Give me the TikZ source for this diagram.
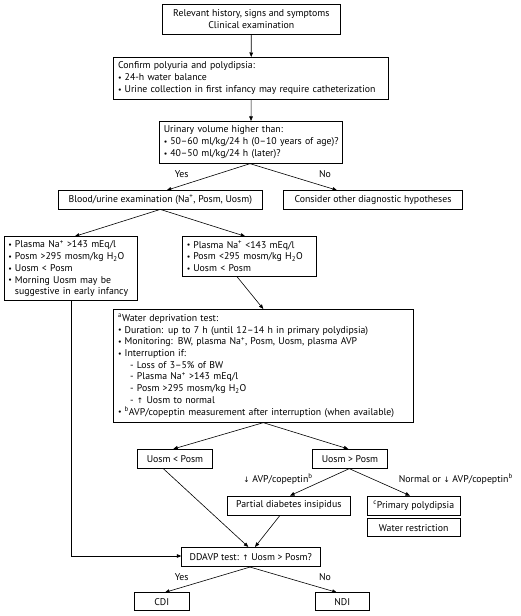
\documentclass[tikz,border=0pt]{standalone}
\usepackage{fontspec}
\setmainfont{PT Sans}
\newfontfamily\symf{DejaVu Sans}
\usetikzlibrary{arrows.meta,calc}
\newcommand\fs{\fontsize{9.8}{11.7}\selectfont}
\newcommand\bu{\makebox[6.5pt][l]{\raisebox{0.3pt}{\scalebox{0.8}{•}}}}
\newcommand\bi{\hspace*{6.5pt}}
\newcommand\sub{\hspace*{12pt}}
\newcommand\ml[1]{\mbox{#1}}
\newcommand\upa{{\symf\fontsize{7.5}{8}\selectfont ↑}}
\newcommand\dna{{\symf\fontsize{7.5}{8}\selectfont ↓}}
\begin{document}
\begin{tikzpicture}[x=1pt,y=-1pt,
  box/.style={draw, line width=0.7pt, inner xsep=4.5pt, inner ysep=0pt, font=\fs, anchor=center},
  lbox/.style={box, align=left},
  cbox/.style={box, align=center, inner xsep=0pt},
  arr/.style={line width=0.6pt, -{Triangle[length=4.5pt,width=3.6pt]}},
  lab/.style={font=\fs, inner sep=0pt}]
\useasboundingbox (0,0) rectangle (520,616);
\node[cbox, minimum width=178.7pt, minimum height=30pt] (b1) at (251.3,19) {Relevant history, signs and symptoms\\Clinical examination};
\node[lbox, text width=266pt, minimum height=41.7pt] (b2) at (251.2,78.2) {\ml{Confirm polyuria and polydipsia:}\\\ml{\bu 24-h water balance}\\\ml{\bu Urine collection in first infancy may require catheterization}};
\node[lbox, text width=174.4pt, minimum height=42pt] (b3) at (251,142.3) {\ml{Urinary volume higher than:}\\\ml{\bu 50–60 ml/kg/24 h (0–10 years of age)?}\\\ml{\bu 40–50 ml/kg/24 h (later)?}};
\node[cbox, minimum width=203.3pt, minimum height=18.5pt] (blood) at (160.3,199.8) {Blood/urine examination (Na\textsuperscript{+}, Posm, Uosm)};
\node[cbox, minimum width=179.4pt, minimum height=18.5pt] (cons) at (373,199.8) {Consider other diagnostic hypotheses};
\node[lbox, text width=124.7pt, minimum height=64pt] (left) at (70.8,268.7) {\ml{\bu Plasma Na\textsuperscript{+} >143 mEq/l}\\\ml{\bu Posm >295 mosm/kg H\textsubscript{2}O}\\\ml{\bu Uosm < Posm}\\\ml{\bu Morning Uosm may be}\\\ml{\bi suggestive in early infancy}};
\node[lbox, text width=124.7pt, minimum height=39.3pt] (mid) at (249.2,256.3) {\ml{\bu Plasma Na\textsuperscript{+} <143 mEq/l}\\\ml{\bu Posm <295 mosm/kg H\textsubscript{2}O}\\\ml{\bu Uosm < Posm}};
\node[lbox, text width=290.6pt, minimum height=113pt] (water) at (263.5,365.8) {\ml{\textsuperscript{a}Water deprivation test:}\\\ml{\bu Duration: up to 7 h (until 12–14 h in primary polydipsia)}\\\ml{\bu Monitoring: BW, plasma Na\textsuperscript{+}, Posm, Uosm, plasma AVP}\\\ml{\bu Interruption if:}\\\ml{\sub - Loss of 3–5\% of BW}\\\ml{\sub - Plasma Na\textsuperscript{+} >143 mEq/l}\\\ml{\sub - Posm >295 mosm/kg H\textsubscript{2}O}\\\ml{\sub - \upa\ Uosm to normal}\\\ml{\bu \textsuperscript{b}AVP/copeptin measurement after interruption (when available)}};
\node[cbox, minimum width=74.6pt, minimum height=19pt] (ult) at (175,458.8) {Uosm < Posm};
\node[cbox, minimum width=74.6pt, minimum height=19pt] (ugt) at (350,458.8) {Uosm > Posm};
\node[cbox, minimum width=122.3pt, minimum height=19pt] (pdi) at (288.8,505.5) {Partial diabetes insipidus};
\node[cbox, minimum width=92.7pt, minimum height=19pt] (pp) at (413.7,505.5) {\textsuperscript{c}Primary polydipsia};
\node[cbox, minimum width=92.7pt, minimum height=18pt] (wr) at (413.7,527.7) {Water restriction};
\node[cbox, minimum width=138.3pt, minimum height=19.4pt] (dd) at (250.8,557) {DDAVP test: \upa\ Uosm > Posm?};
\node[cbox, minimum width=54.7pt, minimum height=18pt] (cdi) at (161.7,601.7) {CDI};
\node[cbox, minimum width=54.3pt, minimum height=18pt] (ndi) at (342.2,601.7) {NDI};
% labels
\node[lab] (y1) at (181.7,174) {Yes};
\node[lab] (n1) at (325,174) {No};
\node[lab] (y2) at (181.7,577.3) {Yes};
\node[lab] (n2) at (325,577.3) {No};
\node[lab] (avp1) at (278,479) {\dna\ AVP/copeptin\textsuperscript{b}};
\node[lab, anchor=east] (avp2) at (513,479) {Normal or \dna\ AVP/copeptin\textsuperscript{b}};
% arrows
\draw[arr] (b1.south) -- (b2.north);
\draw[arr] (b2.south) -- (b3.north);
\draw[arr] ($(b3.south)+(-1,0)$) -- ($(blood.north)+(6.5,0)$);
\draw[arr] ($(b3.south)+(-1,0)$) -- ($(cons.north)+(-36,0)$);
\draw[arr] (blood.south) -- ($(left.north)+(4,0)$);
\draw[arr] (blood.south) -- ($(mid.north)+(-4,0)$);
\draw[arr] ($(mid.south)+(-12.5,0)$) -- ($(water.north)+(-0.2,0)$);
\draw[arr] ($(water.south)+(-0.2,0)$) -- ($(ult.north)+(-1.7,0)$);
\draw[arr] ($(water.south)+(-0.2,0)$) -- ($(ugt.north)+(-1.7,0)$);
\draw[arr] ($(ugt.south)+(-0.7,0)$) -- ($(pdi.north)+(1.2,0)$);
\draw[arr] ($(ugt.south)+(-0.7,0)$) -- ($(pp.north)+(-3.7,0)$);
\draw[arr] ($(ult.south)+(-11.7,0)$) -- ($(dd.north)+(-2.5,0)$);
\draw[arr] ($(pdi.south)+(-8.8,0)$) -- ($(dd.north)+(4.2,0)$);
\draw[arr] (left.south) |- ($(dd.west)+(0,-1)$);
\draw[arr] ($(dd.south)+(-0.8,0)$) -- ($(cdi.north)+(3.3,0)$);
\draw[arr] ($(dd.south)+(-0.8,0)$) -- ($(ndi.north)+(-5.5,0)$);
\end{tikzpicture}
\end{document}
